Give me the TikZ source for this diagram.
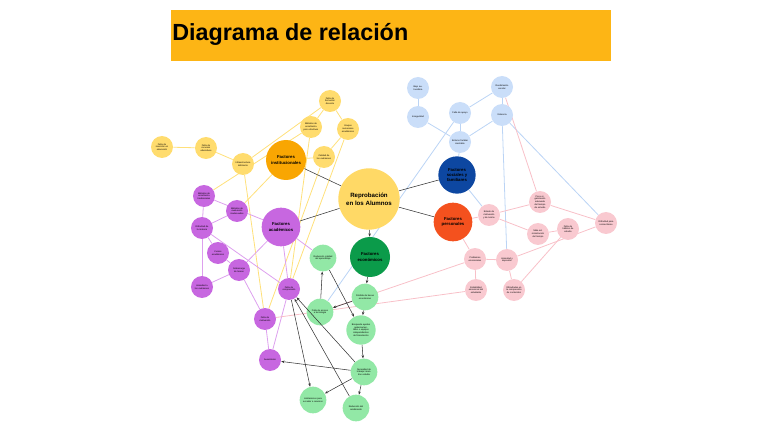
\documentclass[tikz,border=0pt]{standalone}
\usepackage{fontspec}
\setsansfont{Liberation Sans}
\usetikzlibrary{arrows.meta,backgrounds}
\definecolor{bandorange}{HTML}{FDB515}
\definecolor{mainyellow}{HTML}{FFD966}
\definecolor{instorange}{HTML}{F9A602}
\definecolor{acadpurple}{HTML}{C767E0}
\definecolor{econgreen}{HTML}{0B9B4A}
\definecolor{socblue}{HTML}{0D47A1}
\definecolor{persred}{HTML}{F4511E}
\definecolor{ylight}{HTML}{FFDC6E}
\definecolor{glight}{HTML}{92E8A6}
\definecolor{blight}{HTML}{CADEF9}
\definecolor{klight}{HTML}{F9C9D0}
\definecolor{yline}{HTML}{FFE07A}
\definecolor{pline}{HTML}{DDA0EE}
\definecolor{bline}{HTML}{BBD4F5}
\definecolor{kline}{HTML}{F8C0C8}

\begin{document}
\begin{tikzpicture}[x=0.75pt,y=-0.75pt,
  hub/.style={circle, draw=none, inner sep=0pt, align=center,
    font=\sffamily\bfseries\fontsize{3.2}{3.9}\selectfont},
  leaf/.style={circle, draw=none, inner sep=0pt, align=center, minimum size=16.5pt,
    text width=12pt, font=\sffamily\fontsize{1.7}{2.1}\selectfont},
  gleaf/.style={leaf, fill=glight, minimum size=20pt, text width=15pt},
  link/.style={black!80, thin},
  lnk/.style={-{Stealth[length=2.5pt]}, black!80, thin},
  yl/.style={yline, line width=0.6pt},
  pl/.style={pline, line width=0.6pt},
  bl/.style={bline, line width=0.6pt},
  kl/.style={kline, line width=0.6pt}]

\useasboundingbox (0,0) rectangle (768,431);

% Title band
\fill[bandorange] (171,10) rectangle (611,61);
\node[anchor=west, inner sep=0pt, font=\sffamily\bfseries\fontsize{17.5}{20}\selectfont] (title) at (172,34) {Diagrama de relación};

% Yellow leaves (institutional)
\node[leaf, fill=ylight] (y1) at (330,101) {Falta de formación docente};
\node[leaf, fill=ylight] (y2) at (311,127) {Métodos de enseñanza poco efectivos};
\node[leaf, fill=ylight] (y3) at (348,129) {Grupos numerosos académicos};
\node[leaf, fill=ylight] (y4) at (324,157) {Calidad de los exámenes};
\node[leaf, fill=ylight] (y5) at (243,164) {Infraestructura deficiente};
\node[leaf, fill=ylight] (y6) at (206,148) {Falta de recursos educativos};
\node[leaf, fill=ylight] (y7) at (162,147) {Falta de inversión en educación};

% Purple leaves (academic)
\node[leaf, fill=acadpurple] (p1) at (204,196) {Métodos de enseñanza tradicionales};
\node[leaf, fill=acadpurple] (p2) at (237,211) {Métodos de evaluación inadecuados};
\node[leaf, fill=acadpurple] (p3) at (202,228) {Dificultad de la materia};
\node[leaf, fill=acadpurple] (p4) at (218,253) {Cursos académicos};
\node[leaf, fill=acadpurple] (p5) at (239,270) {Sobrecarga de tareas};
\node[leaf, fill=acadpurple] (p6) at (202,287) {Ansiedad a los exámenes};
\node[leaf, fill=acadpurple] (p7) at (289,289) {Falta de comprensión};
\node[leaf, fill=acadpurple] (p8) at (265,319) {Falta de motivación};
\node[leaf, fill=acadpurple] (p9) at (270,360) {Ausentismo};

% Green leaves (economic)
\node[gleaf] (g1) at (323,258) {Reducción calidad del aprendizaje};
\node[gleaf] (g2) at (320,312) {Falta de acceso a tecnología};
\node[gleaf] (g3) at (365,297) {Pérdida de becas económicas};
\node[gleaf, minimum size=22pt, text width=16pt] (g4) at (361,330) {Búsqueda ayudas gubernamentales o equipos independientes de financiación};
\node[gleaf] (g5) at (364,372) {Necesidad de trabajar mientras estudia};
\node[gleaf] (g6) at (313,400) {Limitaciones para acceder a recursos};
\node[gleaf] (g7) at (356,408) {Reducción del rendimiento};

% Blue leaves (social)
\node[leaf, fill=blight] (b1) at (418,88) {Bajo autoestima};
\node[leaf, fill=blight] (b2) at (418,117) {Inseguridad};
\node[leaf, fill=blight] (b3) at (460,113) {Falta de apoyo};
\node[leaf, fill=blight] (b4) at (460,142) {Entorno familiar inestable};
\node[leaf, fill=blight] (b5) at (502,87) {Rendimiento escolar};
\node[leaf, fill=blight] (b6) at (502,115) {Violencia};

% Pink leaves (personal)
\node[leaf, fill=klight] (k1) at (489,215) {Estado de motivación y de ánimo};
\node[leaf, fill=klight] (k2) at (540,202) {Poca organización adecuada del tiempo de estudio};
\node[leaf, fill=klight] (k3) at (538,234) {Mala administración del tiempo};
\node[leaf, fill=klight] (k4) at (568,229) {Falta de hábitos de estudio};
\node[leaf, fill=klight] (k5) at (606,223) {Dificultad para concentrarse};
\node[leaf, fill=klight] (k6) at (475,259) {Problemas emocionales};
\node[leaf, fill=klight] (k7) at (507,260) {Ansiedad y depresión};
\node[leaf, fill=klight] (k8) at (476,290) {Estabilidad emocional del estudiante};
\node[leaf, fill=klight] (k9) at (514,290) {Dificultades en la comprensión de contenidos};

% Hubs
\node[hub, fill=mainyellow, minimum size=46pt, font=\sffamily\bfseries\fontsize{4.6}{5.8}\selectfont] (main) at (369,199) {Reprobación\\en los Alumnos};
\node[hub, fill=instorange, minimum size=30pt] (inst) at (286,160) {Factores\\institucionales};
\node[hub, fill=acadpurple, minimum size=29pt] (acad) at (281,227) {Factores\\académicos};
\node[hub, fill=econgreen, minimum size=30pt] (econ) at (370,257) {Factores\\económicos};
\node[hub, fill=socblue, minimum size=28pt] (soc) at (457,175) {Factores\\sociales y\\familiares};
\node[hub, fill=persred, minimum size=29pt] (pers) at (453,222) {Factores\\personales};

\begin{scope}[on background layer]
% Yellow links
\foreach \a/\b in {y7/y6, y6/y5, y5/y1, y1/y2, y1/y3, y3/y4, y4/inst, y2/p7, y3/p7,
                   y4/p8, y5/p8, inst/p2, y2/p1}
  \draw[yl] (\a) -- (\b);

% Purple links
\foreach \a/\b in {p1/p3, p1/acad, p2/p3, p3/p6, p3/p4, p3/p7, p6/p5, p5/p4,
                   p5/acad, p5/p8, p8/p9, p7/p9, acad/p7, acad/g1}
  \draw[pl] (\a) -- (\b);

% Blue links
\foreach \a/\b in {b1/b2, b2/b4, b3/b4, b4/b6, b6/b5, b3/b5, b3/g2, b4/soc,
                   b6/k7, b6/k5, soc/k1}
  \draw[bl] (\a) -- (\b);

% Pink links
\foreach \a/\b in {pers/k1, k1/k2, k1/k3, k2/k5, k3/k4, k4/k9, pers/k6, k6/k7,
                   k6/k8, k7/k9, k7/k5, k6/g2, b5/k2, k8/p8}
  \draw[kl] (\a) -- (\b);
\end{scope}

% Main links
\foreach \b in {inst, acad, soc, pers}
  \draw[link] (main) -- (\b);
\draw[lnk] (main) -- (econ);
\draw[lnk] (econ) -- (g3);
\draw[lnk] (g3) -- (g2);
\draw[lnk] (g3) -- (g4);
\draw[lnk] (g4) -- (g5);
\draw[lnk] (g5) -- (g6);
\draw[lnk] (g5) -- (p9);
\draw[lnk] (g2) -- (g1);
\draw[lnk] (g1) -- (g4);
\draw[lnk] (g7) -- (p7);
\draw[lnk] (g5) -- (p7);
\draw[lnk] (p7) -- (g6);
\draw[lnk] (g5) -- (g7);

\end{tikzpicture}
\end{document}
